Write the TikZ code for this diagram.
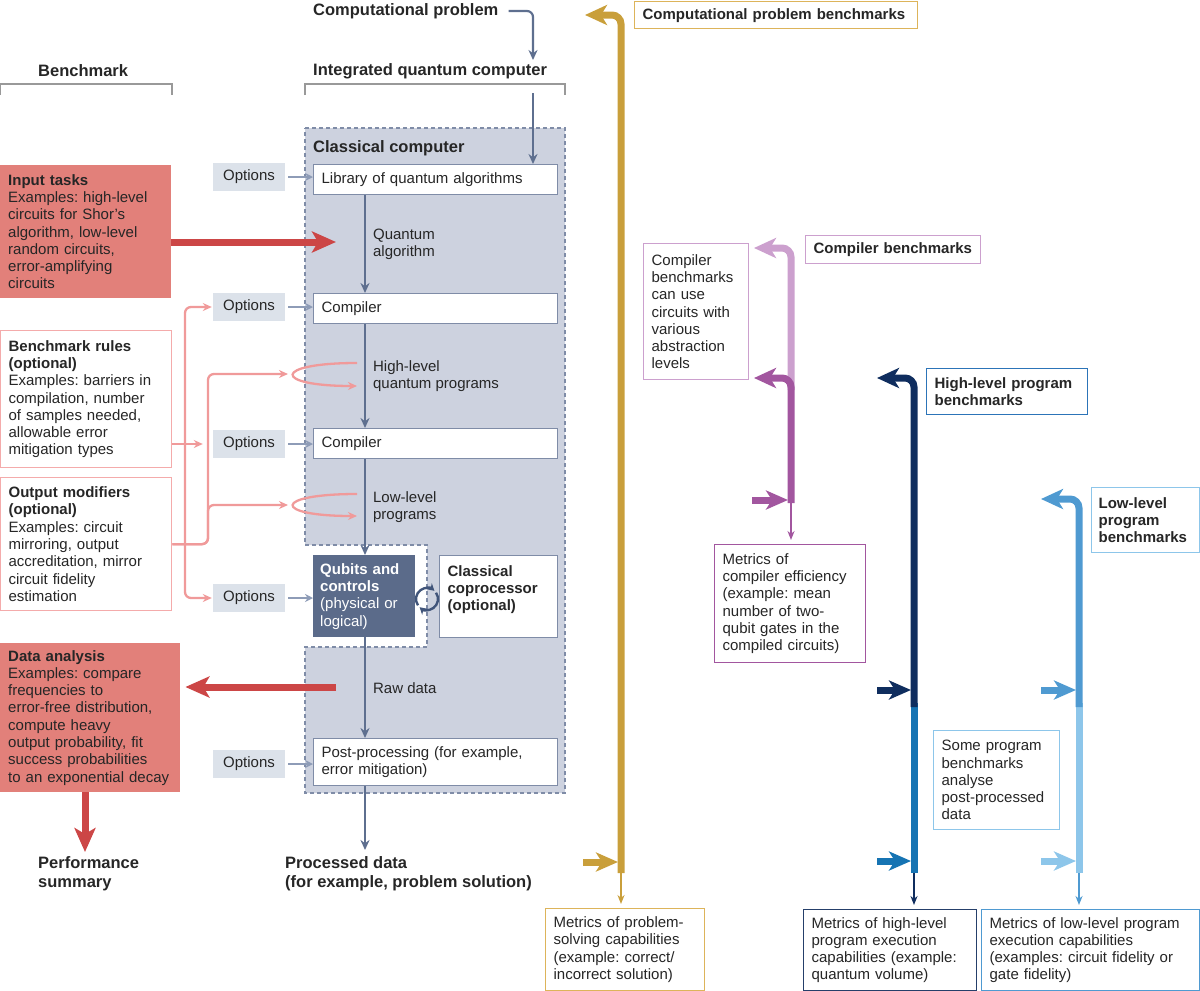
\documentclass[tikz,border=0pt]{standalone}
\usepackage{fontspec}
\setmainfont{Liberation Sans}
\usetikzlibrary{positioning, arrows.meta, calc}
\frenchspacing
\definecolor{ink}{HTML}{262626}
\definecolor{slate}{HTML}{5E6F8F}
\definecolor{loopc}{HTML}{41557A}
\definecolor{cpfill}{HTML}{CDD2DF}
\definecolor{cpline}{HTML}{7F8CA7}
\definecolor{optfill}{HTML}{DCE2EA}
\definecolor{optline}{HTML}{8E9CB7}
\definecolor{qbfill}{HTML}{5B6B8A}
\definecolor{salmon}{HTML}{E2807A}
\definecolor{redarrow}{HTML}{CC4646}
\definecolor{pinkline}{HTML}{F09A9A}
\definecolor{pinkbox}{HTML}{F4ABAB}
\definecolor{gold}{HTML}{C99F3B}
\definecolor{goldbox}{HTML}{DDB45A}
\definecolor{lpurple}{HTML}{CCA0CE}
\definecolor{dpurple}{HTML}{A2569F}
\definecolor{navy}{HTML}{0F2D5E}
\definecolor{navybox}{HTML}{253F6A}
\definecolor{mblue}{HTML}{1674B3}
\definecolor{hlbox}{HTML}{2C74B8}
\definecolor{sblue}{HTML}{4F9AD1}
\definecolor{pblue}{HTML}{8DC6EA}

\begin{document}
\begin{tikzpicture}[x=1pt, y=-1pt, font=\fontsize{15}{17.3}\selectfont, text=ink,
    head/.style={font=\fontsize{16.5}{19}\selectfont\bfseries, inner sep=0pt, align=left},
    stage/.style={draw=cpline, line width=1.3pt, fill=white, anchor=north west, minimum width=244pt, minimum height=30pt, text width=228pt, inner xsep=8pt, inner ysep=0pt, align=left},
    opt/.style={fill=optfill, minimum width=72pt, minimum height=28pt, inner sep=0pt},
    tobox/.style={draw=optline, line width=2pt, -{Stealth[length=8pt,width=8pt]}, shorten <=3pt},
    flow/.style={draw=slate, line width=2.2pt, -{Stealth[length=10pt,width=9pt]}},
    lab/.style={right, inner xsep=7pt, inner ysep=0pt, align=left},
    bench/.style={draw=#1, line width=1.3pt, fill=white, anchor=north west, align=left, inner xsep=8pt, inner ysep=0pt},
    task/.style={fill=salmon, anchor=north west, align=left, inner xsep=8pt, inner ysep=0pt},
    bigarrow/.style={draw=redarrow, line width=7pt, -{Stealth[length=24pt,width=21pt,inset=6pt]}},
    trunk/.style={draw=#1, line width=7pt, rounded corners=9pt, -{Stealth[length=22pt,width=20pt,inset=6pt]}},
    seg/.style={draw=#1, line width=7pt},
    feed/.style={draw=#1, line width=7pt, -{Stealth[length=22pt,width=19pt,inset=6pt]}, shorten >=3pt},
    tail/.style={draw=#1, line width=2pt, -{Stealth[length=9pt,width=7pt]}, shorten >=4pt},
    rule/.style={draw=pinkline, line width=2.3pt, rounded corners=6pt, -{Stealth[length=9pt,width=8pt]}},
    bracket/.style={draw=black!40, line width=1.3pt}]
\useasboundingbox (0,0) rectangle (1200,991);

\node[head, anchor=west] (bench) at (38,71) {Benchmark};
\draw[bracket] (0,95) |- (172,84) -- (172,95);
\node[head, anchor=west] (cprob) at (313,11) {Computational problem};
\node[head, anchor=west] (iqc) at (313,71) {Integrated quantum computer};
\draw[bracket] (305,95) |- (565,84) -- (565,95);

\draw[cpline, fill=cpfill, line width=1.3pt, dash pattern=on 4pt off 3pt] (305,128) -- (565,128) -- (565,793) -- (305,793) -- (305,647) -- (427,647) -- (427,545) -- (305,545) -- cycle;
\node[head, anchor=west] (ccomp) at (313,148) {Classical computer};

\node[stage] (lib) at (313,164) {Library of quantum algorithms};
\node[stage] (comp1) at (313,293) {Compiler};
\node[stage] (comp2) at (313,428) {Compiler};
\node[stage, minimum height=47pt] (post) at (313,738) {Post-processing (for example,\\error mitigation)};
\node[anchor=north west, fill=qbfill, text=white, minimum width=102pt, minimum height=82pt, text width=88pt, inner xsep=7pt, inner ysep=0pt, align=left] (qubit) at (313,555) {\textbf{Qubits and}\\\textbf{controls}\\(physical or\\logical)};
\node[stage, minimum width=118pt, minimum height=82pt, text width=102pt] (copro) at (439,555) {\textbf{Classical}\\\textbf{coprocessor}\\\textbf{(optional)}\\\mbox{}};
\begin{scope}[shift={(427,599)}, y=1pt]
\draw[loopc, line width=2.4pt, -{Stealth[length=7pt,width=8pt]}] (215:11) arc[start angle=215, end angle=48, radius=11];
\draw[loopc, line width=2.4pt, -{Stealth[length=7pt,width=8pt]}] (35:11) arc[start angle=35, end angle=-132, radius=11];
\end{scope}

\coordinate (spine) at (365,0);
\coordinate (cpin) at (533,60);
\coordinate (iqcin) at (533,93);
\draw[flow, rounded corners=6pt, shorten <=10pt] (cprob.east) -| (cpin);
\draw[flow] (iqcin) -- (iqcin |- lib.north);
\draw[flow] (lib.south -| spine) -- node[lab]{Quantum\\algorithm} (comp1.north -| spine);
\draw[flow] (comp1.south -| spine) -- node[lab]{High-level\\quantum programs} (comp2.north -| spine);
\draw[flow] (comp2.south -| spine) -- node[lab]{Low-level\\programs} (qubit.north -| spine);
\draw[flow] (qubit.south -| spine) -- node[lab]{Raw data} (post.north -| spine);
\node[head, anchor=north west] (pdata) at (285,856) {Processed data\\(for example, problem solution)};
\draw[flow, shorten >=6pt] (post.south -| spine) -- (spine |- pdata.north);

\node[opt] (opt1) at (249,177) {Options};
\node[opt] (opt2) at (249,307) {Options};
\node[opt] (opt3) at (249,444) {Options};
\node[opt] (opt4) at (249,598) {Options};
\node[opt] (opt5) at (249,764) {Options};
\draw[tobox] (opt1.east) -- (opt1.east -| lib.west);
\draw[tobox] (opt2.east) -- (opt2.east -| comp1.west);
\draw[tobox] (opt3.east) -- (opt3.east -| comp2.west);
\draw[tobox] (opt4.east) -- (opt4.east -| qubit.west);
\draw[tobox] (opt5.east) -- (opt5.east -| post.west);

\node[task, minimum width=171pt, minimum height=133pt, text width=155pt] (input) at (0,165) {\textbf{Input tasks}\\Examples: high-level\\circuits for Shor’s\\algorithm, low-level\\random circuits,\\error-amplifying\\circuits};
\node[bench=pinkbox, minimum width=171pt, minimum height=137pt, text width=155pt] (rules) at (0,330) {\textbf{Benchmark rules}\\\textbf{(optional)}\\Examples: barriers in\\compilation, number\\of samples needed,\\allowable error\\mitigation types};
\node[bench=pinkbox, minimum width=171pt, minimum height=133pt, text width=155pt] (modif) at (0,477) {\textbf{Output modifiers}\\\textbf{(optional)}\\Examples: circuit\\mirroring, output\\accreditation, mirror\\circuit fidelity\\estimation};
\node[task, minimum width=180pt, minimum height=149pt, text width=164pt] (analysis) at (0,643) {\textbf{Data analysis}\\Examples: compare\\frequencies to\\error-free distribution,\\compute heavy\\output probability, fit\\success probabilities\\to an exponential decay};
\node[head, anchor=north west] (perf) at (38,856) {Performance\\summary};

\coordinate (tasksin) at (336,242);
\coordinate (rawout) at (336,687);
\coordinate (perfin) at (85,852);
\draw[bigarrow] (input.east |- tasksin) -- (tasksin);
\draw[bigarrow, shorten >=5pt] (rawout) -- (rawout -| analysis.east);
\draw[bigarrow] (analysis.south -| perfin) -- (perfin);

\coordinate (ruletrunk) at (185,0);
\coordinate (modtrunk) at (208,0);
\coordinate (hlprog) at (288,374);
\coordinate (llprog) at (288,505);
\draw[rule, shorten >=10pt] (rules.east |- opt3) -- (opt3.west);
\draw[rule, shorten >=1pt] (ruletrunk |- opt3) |- (opt2.west);
\draw[rule, shorten >=1pt] (ruletrunk |- opt3) |- (opt4.west);
\draw[rule] (modif.east) -| (modtrunk |- hlprog) -- (hlprog);
\draw[rule] (modif.east) -| (modtrunk |- llprog) -- (llprog);
\draw[rule] (357,363) .. controls (272,363) and (272,386) .. (357,386);
\draw[rule] (357,494) .. controls (272,494) and (272,516) .. (357,516);

\node[bench=goldbox, minimum width=283pt, minimum height=27pt, text width=267pt] (cpb) at (634,1) {\textbf{Computational problem benchmarks}};
\node[bench=goldbox, minimum width=159pt, minimum height=82pt, text width=143pt] (cpbmet) at (545,908) {Metrics of problem-\\solving capabilities\\(example: correct/\\incorrect solution)};
\coordinate (cpbbase) at (621,873);
\coordinate (cpbout) at (585,15);
\coordinate (cpbfeed) at (583,862);
\draw[trunk=gold] (cpbbase) |- (cpbout);
\draw[feed=gold] (cpbfeed) -- (cpbfeed -| cpbbase);
\draw[tail=gold] (cpbbase) -- (cpbbase |- cpbmet.north);

\node[bench=lpurple, minimum width=105pt, minimum height=136pt, text width=89pt] (cbnote) at (643,243) {Compiler\\benchmarks\\can use\\circuits with\\various\\abstraction\\levels};
\node[bench=lpurple, minimum width=175pt, minimum height=28pt, text width=159pt] (cblab) at (805,235) {\textbf{Compiler benchmarks}};
\node[bench=dpurple, minimum width=151pt, minimum height=118pt, text width=135pt] (cbmet) at (714,544) {Metrics of\\compiler efficiency\\(example: mean\\number of two-\\qubit gates in the\\compiled circuits)};
\coordinate (cbbase) at (791,503);
\coordinate (cbjoin) at (791,390);
\coordinate (cbout) at (754,248);
\coordinate (cbhl) at (754,378);
\coordinate (cbfeed) at (752,500);
\draw[trunk=lpurple] (cbjoin) |- (cbout);
\draw[trunk=dpurple] (cbbase) |- (cbhl);
\draw[feed=dpurple] (cbfeed) -- (cbfeed -| cbbase);
\draw[tail=dpurple] (cbbase) -- (cbbase |- cbmet.north);

\node[bench=hlbox, minimum width=161pt, minimum height=46pt, text width=145pt] (hblab) at (926,368) {\textbf{High-level program}\\\textbf{benchmarks}};
\node[bench=navybox, minimum width=173pt, minimum height=81pt, text width=157pt] (hbmet) at (803,909) {Metrics of high-level\\program execution\\capabilities (example:\\quantum volume)};
\coordinate (hbbase) at (914,873);
\coordinate (hbmid) at (914,707);
\coordinate (hbout) at (877,378);
\draw[seg=mblue] (hbbase) -- ([yshift=4pt]hbmid);
\draw[trunk=navy] (hbmid) |- (hbout);
\draw[feed=navy] (877,690) -- (hbmid |- 0,690);
\draw[feed=mblue] (877,861) -- (hbmid |- 0,861);
\draw[tail=navy] (hbbase) -- (hbbase |- hbmet.north);

\node[bench=pblue, minimum width=108pt, minimum height=65pt, text width=94pt, inner xsep=7pt] (lblab) at (1091,487) {\textbf{Low-level}\\\textbf{program}\\\textbf{benchmarks}};
\node[bench=pblue, minimum width=126pt, minimum height=99pt, text width=110pt] (lbnote) at (933,730) {Some program\\benchmarks\\analyse\\post-processed\\data};
\node[bench=sblue, minimum width=218pt, minimum height=81pt, text width=202pt] (lbmet) at (981,909) {Metrics of low-level program\\execution capabilities\\(examples: circuit fidelity or\\gate fidelity)};
\coordinate (lbbase) at (1079,873);
\coordinate (lbmid) at (1079,707);
\coordinate (lbout) at (1041,499);
\draw[seg=pblue] (lbbase) -- ([yshift=4pt]lbmid);
\draw[trunk=sblue] (lbmid) |- (lbout);
\draw[feed=sblue] (1041,690) -- (lbmid |- 0,690);
\draw[feed=pblue] (1041,861) -- (lbmid |- 0,861);
\draw[tail=sblue] (lbbase) -- (lbbase |- lbmet.north);
\end{tikzpicture}
\end{document}
